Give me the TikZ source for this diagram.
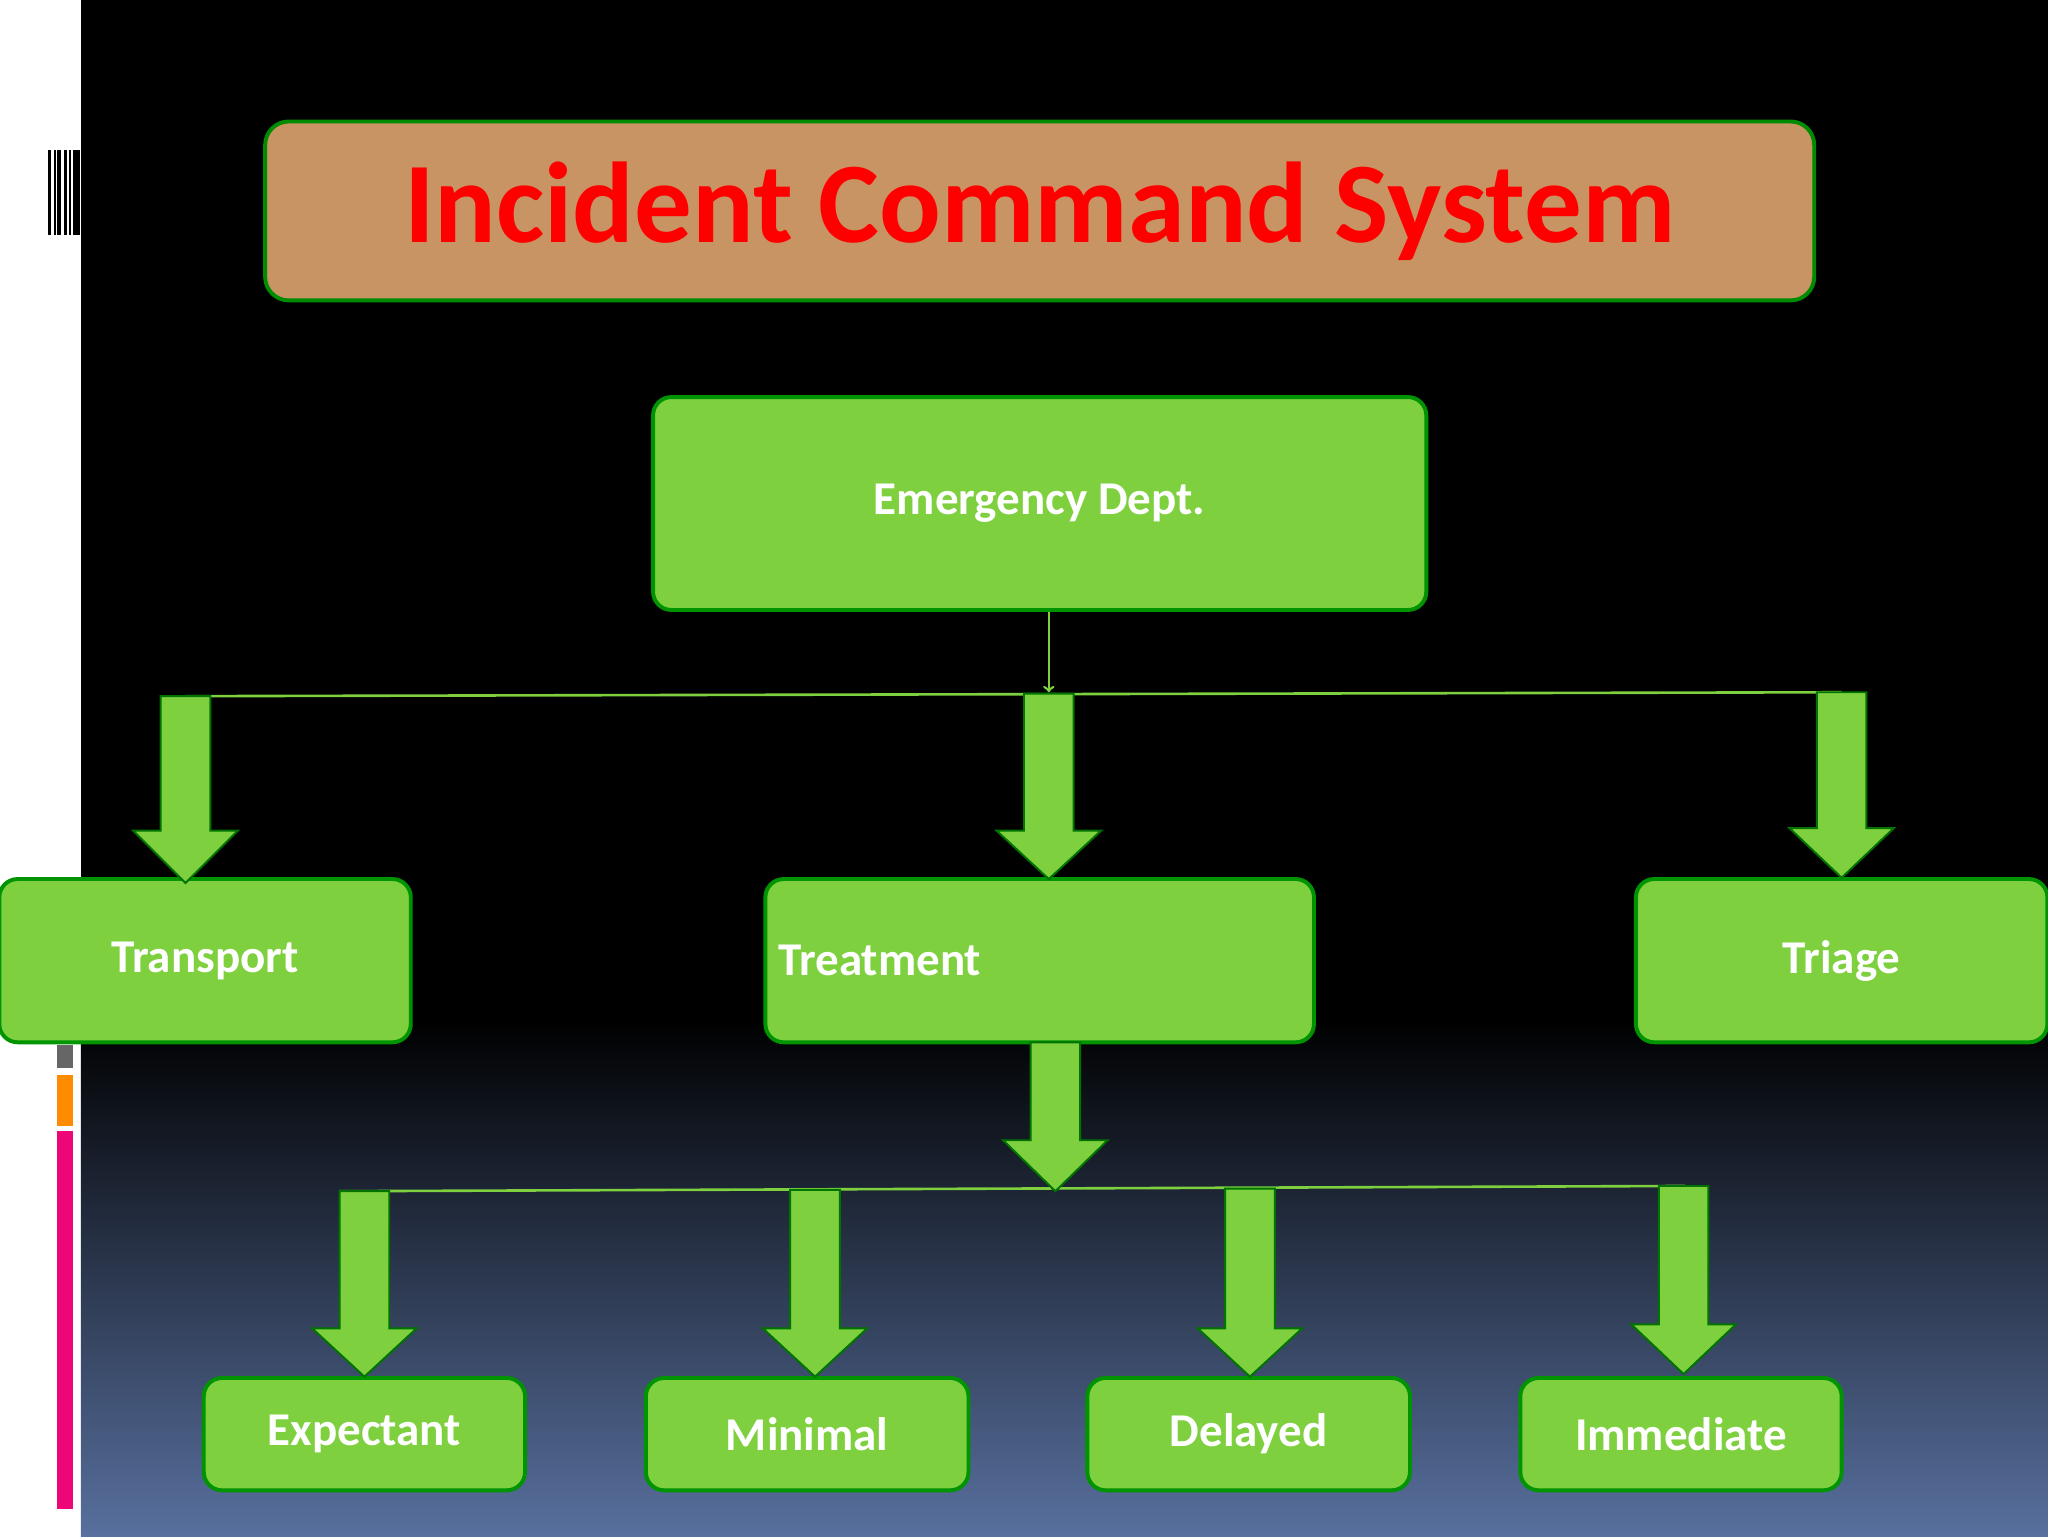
\documentclass[tikz,border=0pt]{standalone}
\usepackage{fontspec}
\setmainfont{Carlito}
\begin{document}
\begin{tikzpicture}[x=1pt,y=-1pt,
  gbox/.style={draw=green!40!black!70!green, line width=3pt, fill=garrow, rounded corners=14pt, inner sep=0pt, text=white, font=\bfseries\fontsize{36}{40}\selectfont},
  blk/.style={fill=garrow, draw=green!45!black, line width=1.5pt},
  thin/.style={draw=garrow, line width=2pt}]
\definecolor{garrow}{HTML}{7ED03F}
\definecolor{wood}{HTML}{C99463}
\useasboundingbox (0,0) rectangle (1568,1176);
\fill[white] (0,0) rectangle (62,1176);
\fill[black] (62,0) rectangle (1568,780);
\shade[top color=black, bottom color={rgb,255:red,88;green,112;blue,158}] (62,780) rectangle (1568,1176);
% left strip decorations
\foreach \x/\w in {37/2,41/1.5,44/3,49/2,53/1.5,56/5}{\fill[black] (\x,115) rectangle ++(\w,65);}
\fill[gray!80!black] (44,800) rectangle (56,818);
\fill[orange!90!yellow] (44,823) rectangle (56,862);
\fill[magenta!80!red] (44,866) rectangle (56,1155);
% title
\node[draw=green!55!black, line width=3pt, fill=wood, rounded corners=18pt, minimum width=1186pt, minimum height=137pt, text=red, font=\bfseries\fontsize{88}{96}\selectfont] (title) at (796,161.5) {Incident Command System};
% boxes
\node[gbox, minimum width=592pt, minimum height=163pt] (ed) at (796,385.5) {Emergency Dept.};
\node[gbox, minimum width=315pt, minimum height=125pt] (tr) at (157,735.5) {Transport};
\node[gbox, minimum width=420pt, minimum height=125pt, text width=400pt, align=left] (tm) at (796,735.5) {Treatment};
\node[gbox, minimum width=315pt, minimum height=125pt] (tg) at (1410,735.5) {Triage};
\node[gbox, minimum width=246pt, minimum height=86pt] (ex) at (279,1098) {Expectant};
\node[gbox, minimum width=247pt, minimum height=86pt] (mi) at (618,1098) {Minimal};
\node[gbox, minimum width=247pt, minimum height=86pt] (de) at (956,1098) {Delayed};
\node[gbox, minimum width=246pt, minimum height=86pt] (im) at (1287,1098) {Immediate};
% connectors
\coordinate (j1) at (803,530);
\draw[thin,->] (ed.south -| j1) -- (j1);
\coordinate (h1l) at (142,533); \coordinate (h1r) at (1410,530);
\draw[thin] (h1l) -- (h1r);
\coordinate (h2l) at (260,912); \coordinate (h2r) at (1290,908);
\draw[thin] (h2l) -- (h2r);
% block arrows: x, ytop, yhead, ytip
\foreach \x/\a/\b/\c in {142/533/636/676, 803/531/636/673, 1410/530/634/672, 808/798/873/912, 279/912/1017/1054, 624/911/1017/1054, 957/910/1017/1054, 1289/908/1014/1052}{
  \draw[blk] (\x-19,\a) -- (\x+19,\a) -- (\x+19,\b) -- (\x+40,\b) -- (\x,\c) -- (\x-40,\b) -- (\x-19,\b) -- cycle;}
\end{tikzpicture}
\end{document}
